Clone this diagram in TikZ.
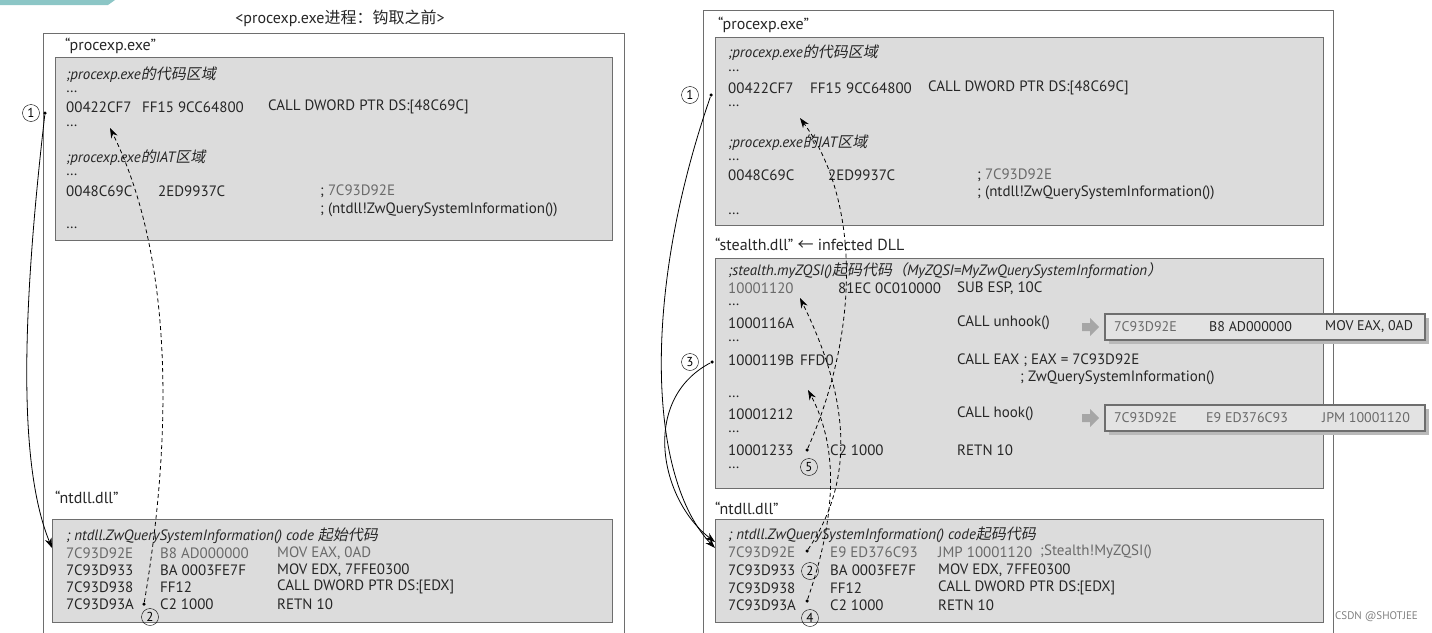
\documentclass[tikz,border=0pt]{standalone}
\usepackage{fontspec}
\setmainfont{PT Sans}
\newfontfamily\cjk{Noto Sans CJK SC}
\newfontfamily\cjki{Noto Sans CJK SC}[FakeSlant=0.2]
\usetikzlibrary{arrows.meta}
\definecolor{boxgray}{HTML}{DCDCDC}
\definecolor{edgegray}{HTML}{6E6E6E}
\definecolor{dimtxt}{HTML}{6A6A6A}
\tikzset{
  t/.style={anchor=west,inner sep=0pt,font=\fontsize{15}{17}\selectfont,text=black!85},
  ti/.style={t,font=\fontsize{15}{17}\selectfont\itshape},
  dim/.style={t,text=dimtxt},
  st/.style={t,font=\fontsize{14}{16}\selectfont},
  sdim/.style={st,text=dimtxt},
  lbl/.style={t,font=\fontsize{16}{18}\selectfont},
  outer/.style={draw=edgegray,line width=0.8pt},
  graybox/.style={draw=edgegray,fill=boxgray,line width=1pt},
  numc/.style={circle,draw,inner sep=0.6pt,minimum size=17pt,font=\fontsize{13}{14}\selectfont},
  dotp/.style={circle,fill,inner sep=0pt,minimum size=3.5pt},
  flow/.style={line width=0.8pt,-{Stealth[length=10pt,width=7pt]}},
  dflow/.style={flow,dash pattern=on 4pt off 3pt},
  side/.style={draw=edgegray,fill=boxgray!80,line width=1.2pt},
  garrow/.style={draw=none,fill=gray!70}
}
\begin{document}
\begin{tikzpicture}[x=1pt,y=-1pt]
\useasboundingbox (0,0) rectangle (1432,632);
\fill[teal!45] (0,0) -- (115,0) -- (108,5) -- (0,5) -- cycle;

% ================= LEFT =================
\node[lbl,anchor=center] (ltitle) at (340,18) {<procexp.exe{\cjk 进程：钩取之前}>};
\draw[outer] (43,33) rectangle (624,640);
\node[lbl] (lproc) at (65,46) {“procexp.exe”};
\draw[graybox] (55,57) rectangle (612,240);
\node[ti] (l1) at (66,75) {;procexp.exe{\cjki 的代码区域}};
\node[t] (l2) at (66,92) {…};
\node[t] (l3a) at (66,107) {00422CF7};
\node[t] (l3b) at (142,107) {FF15 9CC64800};
\node[t] (l3c) at (268,107) {CALL DWORD PTR DS:[48C69C]};
\node[t] (l4) at (66,126) {…};
\node[ti] (l5) at (66,158) {;procexp.exe{\cjki 的}IAT{\cjki 区域}};
\node[t] (l6) at (66,175) {…};
\node[t] (l7a) at (66,191) {0048C69C};
\node[t] (l7b) at (158,191) {2ED9937C};
\node[t] (l7c) at (320,191) {; \textcolor{dimtxt}{7C93D92E}};
\node[t] (l8) at (320,210) {; (ntdll!ZwQuerySystemInformation())};
\node[t] (l9) at (66,228) {…};

\node[lbl] (lntdll) at (55,497) {“ntdll.dll”};
\draw[graybox] (52,519) rectangle (612,622);
\node[ti] (n0) at (66,536) {; ntdll.ZwQuerySystemInformation() code {\cjki 起始代码}};
\node[dim] (n1a) at (66,553) {7C93D92E};
\node[dim] (n1b) at (160,553) {B8 AD000000};
\node[dim] (n1c) at (277,553) {MOV EAX, 0AD};
\node[t] (n2a) at (66,570) {7C93D933};
\node[t] (n2b) at (160,570) {BA 0003FE7F};
\node[t] (n2c) at (277,570) {MOV EDX, 7FFE0300};
\node[t] (n3a) at (66,587) {7C93D938};
\node[t] (n3b) at (160,587) {FF12};
\node[t] (n3c) at (277,587) {CALL DWORD PTR DS:[EDX]};
\node[t] (n4a) at (66,604) {7C93D93A};
\node[t] (n4b) at (160,604) {C2 1000};
\node[t] (n4c) at (277,604) {RETN 10};

\node[numc] (lc1) at (31,113) {1};
\node[dotp] (lp1) at (45,113) {};
\node[numc] (lc2) at (150,617) {2};
\node[dotp] (lp2) at (144,604) {};
\coordinate (lin) at (52,548);
\coordinate (lret) at (110,128);
\draw[flow] (lp1) .. controls (20,330) and (20,470) .. (lin);
\draw[dflow] (lp2) .. controls (175,420) and (170,250) .. (lret);

% ================= RIGHT =================
\draw[outer] (703,10) rectangle (1333,640);
\node[lbl] (rproc) at (718,25) {“procexp.exe”};
\draw[graybox] (715,37) rectangle (1323,225);
\node[ti] (r1) at (728,53) {;procexp.exe{\cjki 的代码区域}};
\node[t] (r2) at (728,71) {…};
\node[t] (r3a) at (728,88) {00422CF7};
\node[t] (r3b) at (810,88) {FF15 9CC64800};
\node[t] (r3c) at (928,88) {CALL DWORD PTR DS:[48C69C]};
\node[t] (r4) at (728,106) {…};
\node[ti] (r5) at (728,143) {;procexp.exe{\cjki 的}IAT{\cjki 区域}};
\node[t] (r6) at (728,160) {…};
\node[t] (r7a) at (728,175) {0048C69C};
\node[t] (r7b) at (828,175) {2ED9937C};
\node[t] (r7c) at (977,175) {; \textcolor{dimtxt}{7C93D92E}};
\node[t] (r8) at (977,193) {; (ntdll!ZwQuerySystemInformation())};
\node[t] (r9) at (728,214) {…};

\node[lbl] (rst) at (715,244) {“stealth.dll” {\cjk ←} infected DLL};
\draw[graybox] (715,258) rectangle (1323,488);
\node[ti] (s0) at (728,271) {;stealth.myZQSI(){\cjki 起码代码（}MyZQSI=MyZwQuerySystemInformation{\cjki ）}};
\node[dim] (s1a) at (728,288) {10001120};
\node[t] (s1b) at (838,288) {81EC 0C010000};
\node[t] (s1c) at (957,288) {SUB ESP, 10C};
\node[t] (s2) at (728,305) {…};
\node[t] (s3a) at (728,323) {1000116A};
\node[t] (s3c) at (957,323) {CALL unhook()};
\node[t] (s4) at (728,341) {…};
\node[t] (s5a) at (728,360) {1000119B};
\node[t] (s5b) at (800,360) {FFD0};
\node[t] (s5c) at (957,360) {CALL EAX ; EAX = 7C93D92E};
\node[t] (s6) at (1020,378) {; ZwQuerySystemInformation()};
\node[t] (s7) at (728,397) {…};
\node[t] (s8a) at (728,414) {10001212};
\node[t] (s8c) at (957,414) {CALL hook()};
\node[t] (s9) at (728,432) {…};
\node[t] (s10a) at (728,450) {10001233};
\node[t] (s10b) at (830,450) {C2 1000};
\node[t] (s10c) at (957,450) {RETN 10};
\node[t] (s11) at (728,468) {…};

% side boxes
\fill[gray!55] (1109,318) rectangle (1429,344);
\draw[side] (1105,314) rectangle (1425,340);
\node[sdim] (u1) at (1114,327) {7C93D92E};
\node[st] (u2) at (1209,327) {B8 AD000000};
\node[st] (u3) at (1325,327) {MOV EAX, 0AD};
\fill[gray!55] (1109,409) rectangle (1429,435);
\draw[side] (1105,405) rectangle (1425,431);
\node[sdim] (h1) at (1114,418) {7C93D92E};
\node[sdim] (h2) at (1206,418) {E9 ED376C93};
\node[sdim] (h3) at (1322,418) {JPM 10001120};
\fill[garrow] (1082,323) rectangle (1090,331) (1090,318) -- (1099,327) -- (1090,336) -- cycle;
\fill[garrow] (1082,414) rectangle (1090,422) (1090,409) -- (1099,418) -- (1090,427) -- cycle;

\node[lbl] (rntdll) at (715,508) {“ntdll.dll”};
\draw[graybox] (715,519) rectangle (1323,622);
\node[ti] (m0) at (728,535) {; ntdll.ZwQuerySystemInformation() code{\cjki 起码代码}};
\node[dim] (m1a) at (728,552) {7C93D92E};
\node[dim] (m1b) at (830,552) {E9 ED376C93};
\node[dim] (m1c) at (938,552) {JMP 10001120};
\node[dim] (m1d) at (1040,552) {;Stealth!MyZQSI()};
\node[t] (m2a) at (728,570) {7C93D933};
\node[t] (m2b) at (830,570) {BA 0003FE7F};
\node[t] (m2c) at (938,570) {MOV EDX, 7FFE0300};
\node[t] (m3a) at (728,588) {7C93D938};
\node[t] (m3b) at (830,588) {FF12};
\node[t] (m3c) at (938,588) {CALL DWORD PTR DS:[EDX]};
\node[t] (m4a) at (728,605) {7C93D93A};
\node[t] (m4b) at (830,605) {C2 1000};
\node[t] (m4c) at (938,605) {RETN 10};

\node[numc] (rc1) at (690,95) {1};
\node[dotp] (rp1) at (711,95) {};
\node[numc] (rc3) at (690,362) {3};
\node[dotp] (rp3) at (712,362) {};
\node[numc] (rc5) at (809,467) {5};
\node[dotp] (rp5) at (807,450) {};
\node[numc] (rc2) at (810,571) {2};
\node[dotp] (rp2) at (807,551) {};
\node[numc] (rc4) at (810,618) {4};
\node[dotp] (rp4) at (807,601) {};
\coordinate (rin1) at (715,548);
\coordinate (rin3) at (715,542);
\coordinate (rt1) at (800,298);
\coordinate (rt2) at (808,390);
\coordinate (rt3) at (800,118);
\draw[flow] (rp1) .. controls (640,300) and (650,480) .. (rin1);
\draw[flow] (rp3) .. controls (640,400) and (660,500) .. (rin3);
\draw[dflow] (rp2) .. controls (855,480) and (850,400) .. (rt1);
\draw[dflow] (rp4) .. controls (835,520) and (840,450) .. (rt2);
\draw[dflow] (rp5) .. controls (860,330) and (860,200) .. (rt3);

\node[anchor=east,inner sep=0pt,font=\fontsize{11}{12}\selectfont,text=gray] (wm) at (1418,617) {CSDN @SHOTJEE};
\end{tikzpicture}
\end{document}
